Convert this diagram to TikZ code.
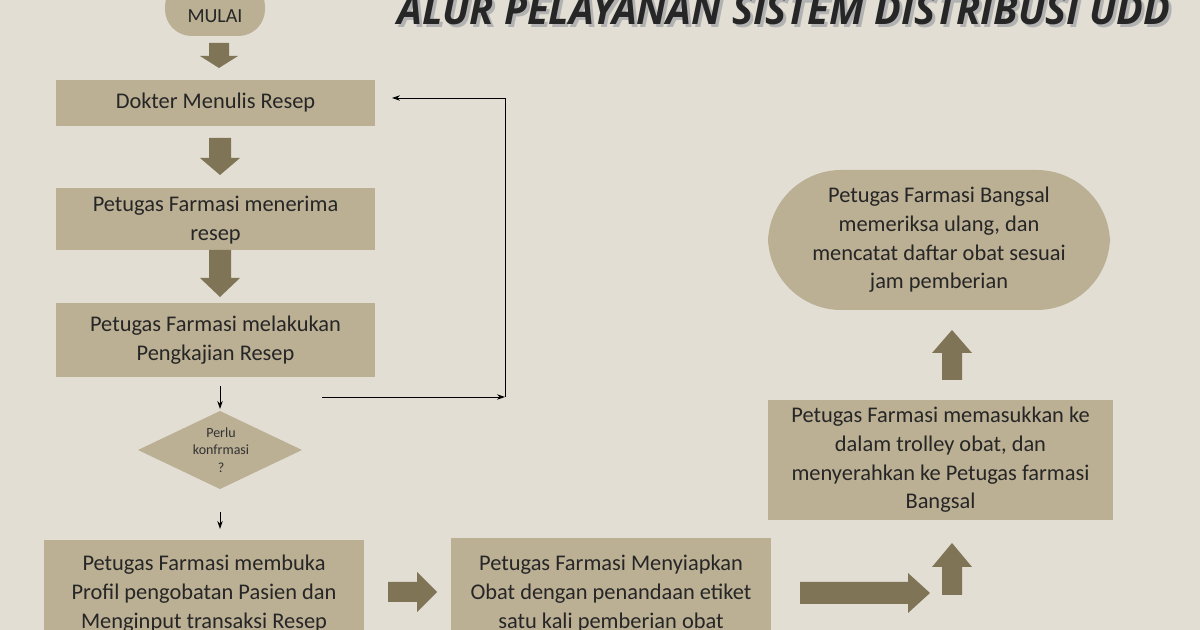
\documentclass[tikz,border=0pt]{standalone}
\usepackage{fontspec}
\setmainfont{Carlito}
\newfontfamily\titlefont{Open Sans}
\usetikzlibrary{shapes.geometric,arrows.meta}
\definecolor{bg}{HTML}{E2DED3}
\definecolor{boxc}{HTML}{BBAF94}
\definecolor{arr}{HTML}{7F7556}
\begin{document}
\begin{tikzpicture}[x=0.75pt,y=-0.75pt,
  box/.style={fill=boxc,draw=none,align=center,inner sep=0pt,font=\fontsize{16.8}{21.5}\selectfont,text=black!85},
  thin/.style={-{Stealth[length=6pt,width=4pt]},line width=0.7pt}]
\fill[bg] (0,0) rectangle (1200,630);
\useasboundingbox (0,0) rectangle (1200,630);
% title
\node[anchor=center,font=\titlefont\bfseries\itshape\fontsize{31}{31}\selectfont,text=black!30,xscale=0.96] at (787,13) {ALUR PELAYANAN SISTEM DISTRIBUSI UDD};
\node[anchor=center,font=\titlefont\bfseries\itshape\fontsize{31}{31}\selectfont,text=black!85,xscale=0.96] (title) at (784,10) {ALUR PELAYANAN SISTEM DISTRIBUSI UDD};
% start
\fill[boxc,rounded corners=20] (165,-20) rectangle (265,36);
\node[font=\fontsize{15}{16}\selectfont,text=black!85] (start) at (215,16) {MULAI};
% boxes
\fill[boxc] (56,80) rectangle (375,126);
\node[box] (b1) at (215.5,103) {Dokter Menulis Resep};
\fill[boxc] (56,188) rectangle (375,250);
\node[box] (b2) at (215.5,220) {Petugas Farmasi menerima\\resep};
\fill[boxc] (56,303) rectangle (375,377);
\node[box] (b3) at (215.5,340) {Petugas Farmasi melakukan\\Pengkajian Resep};
\path[fill=boxc] (138,450) -- (220,411) -- (302,450) -- (220,489) -- cycle;
\node[align=center,font=\fontsize{10.5}{13}\selectfont,text=black!80] (dt) at (221,450) {Perlu\\konfrmasi\\?};
\fill[boxc] (44,540) rectangle (364,640);
\node[box,anchor=north] (b4) at (204,555) {Petugas Farmasi membuka\\Profil pengobatan Pasien dan\\Menginput transaksi Resep};
\fill[boxc] (451,538) rectangle (771,640);
\node[box,anchor=north] (b5) at (611,555) {Petugas Farmasi Menyiapkan\\Obat dengan penandaan etiket\\satu kali pemberian obat};
\fill[boxc] (768,400) rectangle (1113,520);
\node[box] (b6) at (940.5,460) {Petugas Farmasi memasukkan ke\\dalam trolley obat, dan\\menyerahkan ke Petugas farmasi\\Bangsal};
\fill[boxc,rounded corners=55] (768,170) rectangle (1110,310);
\node[box] (b7) at (939,240) {Petugas Farmasi Bangsal\\memeriksa ulang, dan\\mencatat daftar obat sesuai\\jam pemberian};
% block arrows
\fill[arr] (209,43) -- (229,43) -- (229,56) -- (238,56) -- (219,68) -- (200,56) -- (209,56) -- cycle;
\fill[arr] (209,138) -- (231,138) -- (231,158) -- (240,158) -- (220,175) -- (200,158) -- (209,158) -- cycle;
\fill[arr] (209,250) -- (231,250) -- (231,278) -- (240,278) -- (220,297) -- (200,278) -- (209,278) -- cycle;
\fill[arr] (388,582) -- (417,582) -- (417,572) -- (437,592) -- (417,612) -- (417,602) -- (388,602) -- cycle;
\fill[arr] (800,582) -- (908,582) -- (908,573) -- (930,593) -- (908,613) -- (908,604) -- (800,604) -- cycle;
\fill[arr] (942,595) -- (962,595) -- (962,567) -- (972,567) -- (952,543) -- (932,567) -- (942,567) -- cycle;
\fill[arr] (942,380) -- (962,380) -- (962,353) -- (972,353) -- (952,330) -- (932,353) -- (942,353) -- cycle;
% thin arrows
\coordinate (s1) at (220,386); \coordinate (e1) at (220,409);
\draw[thin] (s1) -- (e1);
\coordinate (s2) at (220,512); \coordinate (e2) at (220,529);
\draw[thin] (s2) -- (e2);
\coordinate (f0) at (322,397); \coordinate (f1) at (505,397); \coordinate (f2) at (505,98); \coordinate (f3) at (392,98);
\draw[thin] (f0) -- (f1);
\draw[thin] (f1) -- (f2) -- (f3);
\end{tikzpicture}
\end{document}
